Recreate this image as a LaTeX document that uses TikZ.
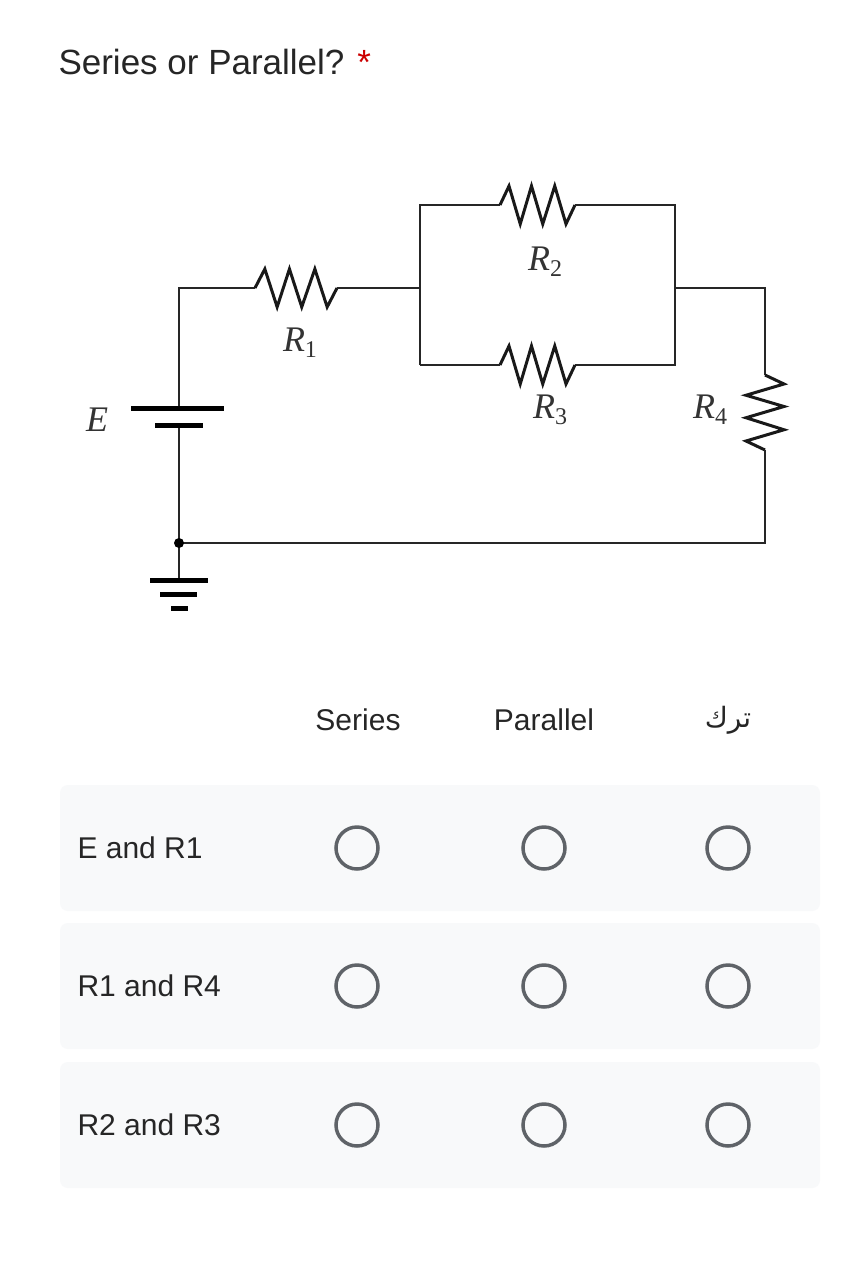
\documentclass[tikz,border=0pt]{standalone}
\usepackage{fontspec}
\setsansfont{Liberation Sans}
\newfontfamily\arab[Script=Arabic]{DejaVu Sans}
\newfontfamily\cserif{Liberation Serif}
\usetikzlibrary{positioning}
\definecolor{rowgray}{HTML}{F8F9FA}
\definecolor{radgray}{HTML}{5F6368}
\newcommand{\rlab}[1]{\textit{R}\raisebox{-6pt}{\fontsize{24}{26}\selectfont #1}}
\tikzset{
  wire/.style={line width=2pt, black!85},
  resistor/.pic={\draw[line width=3pt, line join=miter, black!90]
    (0,0) -- (.12,-19) -- (.27,19) -- (.42,-19) -- (.57,19) -- (.73,-19) -- (.88,19) -- (1,0);},
  plate/.style={line width=5pt},
  lbl/.style={font=\cserif\fontsize{36}{38}\selectfont, text=black!80},
  txt/.style={font=\sffamily\fontsize{30}{34}\selectfont, text=black!85},
  radio/.style={draw=radgray, line width=3.5pt, circle, minimum size=42pt, inner sep=0pt},
  row/.style={fill=rowgray, rounded corners=8pt}
}
\begin{document}
\begin{tikzpicture}[x=1pt, y=-1pt]
  \useasboundingbox (0,0) rectangle (862,1280);
  \fill[white] (0,0) rectangle (862,1280);

  % title
  \node[anchor=west, txt, font=\sffamily\fontsize{35}{38}\selectfont] (title) at (55,62) {Series or Parallel? \textcolor{red!80!black}{*}};

  % circuit corners
  \coordinate (tl) at (179,288); \coordinate (r1a) at (255,288);
  \coordinate (r1b) at (337,288); \coordinate (jl) at (420,288);
  \coordinate (ult) at (420,205); \coordinate (r2a) at (500,205);
  \coordinate (r2b) at (575,205); \coordinate (urt) at (675,205);
  \coordinate (llt) at (420,365); \coordinate (r3a) at (500,365);
  \coordinate (r3b) at (575,365); \coordinate (lrt) at (675,365);
  \coordinate (jr) at (675,288); \coordinate (tr) at (765,288);
  \coordinate (r4a) at (765,375); \coordinate (r4b) at (765,450);
  \coordinate (br) at (765,543); \coordinate (gnd) at (179,543);
  \coordinate (bp) at (179,408); \coordinate (bn) at (179,425);
  \coordinate (g1) at (179,580);

  \draw[wire] (bp) -- (tl) -- (r1a);
  \pic[xscale=82] at (r1a) {resistor};
  \draw[wire] (r1b) -- (jl);
  \draw[wire] (llt) -- (ult) -- (r2a);
  \pic[xscale=75] at (r2a) {resistor};
  \draw[wire] (r2b) -- (urt) -- (lrt) -- (r3b);
  \pic[xscale=75] at (r3a) {resistor};
  \draw[wire] (r3a) -- (llt);
  \draw[wire] (jr) -- (tr) -- (r4a);
  \pic[rotate=-90, xscale=75] at (r4a) {resistor};
  \draw[wire] (r4b) -- (br) -- (gnd) -- (bn);
  \draw[wire] (gnd) -- (g1);
  \fill (gnd) circle (5pt);

  % battery and ground
  \draw[plate] (131,408) -- (224,408);
  \draw[plate] (155,425) -- (203,425);
  \draw[plate] (150,580) -- (208,580);
  \draw[plate] (160,594) -- (197,594);
  \draw[plate] (171,608) -- (188,608);

  \node[lbl] (E) at (97,420) {\textit{E}};
  \node[lbl] (R1) at (300,343) {\rlab{1}};
  \node[lbl] (R2) at (545,262) {\rlab{2}};
  \node[lbl] (R3) at (550,410) {\rlab{3}};
  \node[lbl] (R4) at (710,410) {\rlab{4}};

  % header
  \node[txt] (hs) at (358,720) {Series};
  \node[txt] (hp) at (544,720) {Parallel};
  \node[txt, font=\arab\fontsize{28}{32}\selectfont] (hl) at (728,720) {ترك};

  % rows
  \foreach \y/\t [count=\i] in {848/E and R1, 986/R1 and R4, 1125/R2 and R3} {
    \fill[row] (60,\y-63) rectangle (820,\y+63);
    \node[txt, anchor=west] (lab\i) at (74,\y) {\t};
    \node[radio] (s\i) at (357,\y) {};
    \node[radio] (p\i) at (544,\y) {};
    \node[radio] (l\i) at (728,\y) {};
  }
\end{tikzpicture}
\end{document}
